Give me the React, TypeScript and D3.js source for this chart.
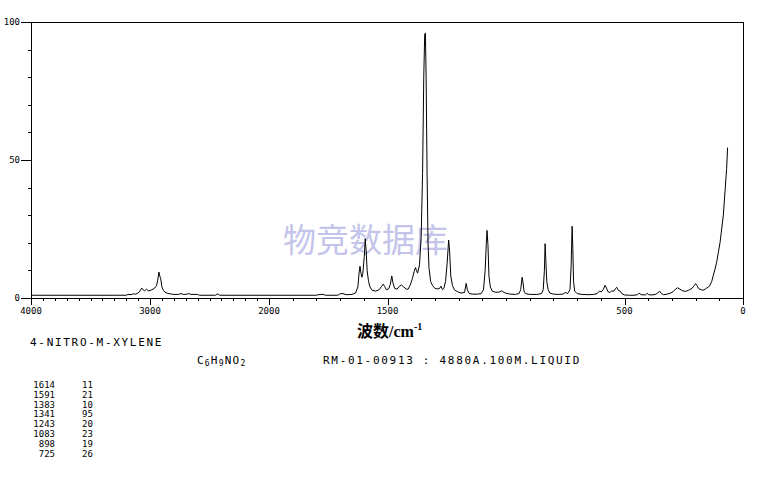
import * as d3 from "d3";

// spectrum: [wavenumber, intensity]
const spectrum: [number, number][] = [
  [4000, 1.0], [3300, 1.0], [3200, 1.0], [3185, 1.3], [3160, 1.2], [3140, 1.5], [3120, 1.4],
  [3100, 1.8], [3085, 2.5], [3070, 3.6], [3058, 3.0], [3045, 2.6], [3030, 3.2], [3015, 2.6],
  [3000, 2.7], [2985, 3.0], [2965, 3.4], [2945, 4.5], [2935, 6.5], [2925, 9.4], [2918, 8.0],
  [2910, 7.0], [2900, 4.0], [2888, 2.8], [2875, 2.1], [2855, 1.7], [2830, 1.5], [2800, 1.3],
  [2760, 1.3], [2740, 1.6], [2720, 1.3], [2700, 1.3], [2675, 1.6], [2655, 1.3], [2600, 1.3],
  [2585, 1.0], [2450, 1.0], [2430, 1.5], [2415, 1.0], [2000, 1.0], [1800, 1.0], [1785, 1.3],
  [1772, 1.3], [1762, 1.0], [1710, 1.0], [1698, 1.6], [1688, 1.6], [1675, 1.2], [1650, 1.3],
  [1635, 1.8], [1625, 4], [1620, 9], [1616, 11.5], [1612, 9], [1608, 7.5], [1604, 9],
  [1598, 15], [1594, 21.5], [1590, 17], [1586, 10], [1580, 6], [1574, 4], [1565, 2.8],
  [1550, 2.5], [1535, 3], [1525, 4.2], [1518, 5], [1512, 4.2], [1505, 3], [1495, 3.3],
  [1488, 5], [1482, 8], [1477, 5.5], [1470, 3.5], [1460, 3.2], [1450, 4.2], [1441, 4.7],
  [1432, 4], [1420, 3.2], [1413, 3.2], [1405, 4.5], [1395, 7], [1388, 9.5], [1382, 11],
  [1378, 10], [1373, 9], [1365, 12], [1358, 22], [1352, 45], [1347, 80], [1343, 95.5],
  [1340, 96], [1337, 80], [1333, 45], [1329, 20], [1325, 11], [1318, 6], [1310, 4.5],
  [1300, 3.5], [1290, 3.3], [1280, 3.5], [1274, 4.3], [1268, 3], [1262, 3.5], [1255, 6],
  [1248, 13], [1242, 21], [1238, 17], [1233, 8], [1226, 4.5], [1218, 3], [1205, 2.3],
  [1190, 1.8], [1175, 2], [1168, 5.3], [1163, 3], [1155, 1.6], [1140, 1.4], [1120, 1.4],
  [1105, 1.6], [1095, 3], [1088, 10], [1083, 20], [1080, 24.5], [1076, 19], [1072, 8],
  [1066, 4], [1058, 2.5], [1045, 2.1], [1030, 2.1], [1018, 2.6], [1008, 2], [995, 1.6],
  [980, 1.4], [960, 1.3], [945, 1.6], [938, 3], [932, 7.5], [928, 5.5], [924, 2.5],
  [918, 1.6], [900, 1.3], [870, 1.3], [850, 1.6], [843, 3], [838, 10], [835, 19.7],
  [832, 14], [828, 6], [822, 3], [815, 1.8], [800, 1.4], [780, 1.3], [760, 1.4], [750, 2],
  [740, 1.6], [730, 3], [725, 12], [721, 26], [718, 18], [715, 6], [710, 2.5], [700, 1.6],
  [680, 1.3], [650, 1.2], [630, 1.3], [615, 1.6], [606, 2.5], [598, 2.2], [590, 3],
  [582, 4.6], [576, 3.6], [570, 2.3], [562, 2], [555, 2.5], [545, 2.5], [538, 3.4],
  [533, 3.9], [526, 2.8], [520, 2.6], [510, 1.5], [500, 1.1], [480, 1.0], [460, 1.0],
  [445, 1.2], [438, 1.8], [430, 1.2], [412, 1.1], [404, 1.7], [398, 1.2], [385, 1.1],
  [370, 1.3], [360, 1.8], [352, 2.5], [344, 1.6], [335, 1.2], [320, 1.4], [305, 1.8],
  [295, 2.3], [285, 3.2], [276, 3.7], [266, 3.2], [255, 2.6], [242, 2.4], [230, 2.8],
  [215, 3.5], [205, 4.6], [200, 5.2], [195, 4.6], [188, 3.5], [175, 2.9], [165, 2.9],
  [155, 3.5], [145, 4], [139, 4.7], [132, 6], [125, 8.3], [118, 10.5], [111, 13],
  [104, 16.5], [97, 20], [90, 25], [83, 30], [76, 38.5], [69, 47], [65, 54.5],
];

const xLabels = [4000, 3000, 2000, 1500, 500, 0];
const yLabels = [0, 50, 100];

const peakPositions = ["1614", "1591", "1383", "1341", "1243", "1083", "898", "725"];
const peakIntensities = ["11", "21", "10", "95", "20", "23", "19", "26"];

const mono = "'DejaVu Sans Mono', monospace";

export default function App() {
  const left = 31;
  const right = 743;
  const top = 22;
  const bottom = 298;

  // the axis is split: 4000-2000 compressed, 2000-0 at double scale
  const x = d3.scaleLinear().domain([4000, 2000, 0]).range([left, 269, right]);
  const y = d3.scaleLinear().domain([0, 100]).range([bottom, top]);

  const line = d3
    .line<[number, number]>()
    .x((d) => x(d[0]))
    .y((d) => y(d[1]));

  const xTicks = d3.range(0, 4001, 100);
  const yTicks = d3.range(0, 101, 10);

  return (
    <svg
      width={761}
      height={477}
      style={{ position: "absolute", left: 0, top: 0, background: "#fff" }}
    >
      <rect width={761} height={477} fill="#fff" />
      <text
        x={283}
        y={252}
        fontFamily="'Noto Sans CJK SC', sans-serif"
        fontSize={33}
        fill="#c4c4ea"
      >
        物竞数据库
      </text>

      <g shapeRendering="crispEdges" stroke="#000" strokeWidth={1}>
        <rect
          x={left + 0.5}
          y={top + 0.5}
          width={right - left}
          height={bottom - top}
          fill="none"
        />
        {xTicks.map((t) => (
          <line
            key={t}
            x1={Math.round(x(t)) + 0.5}
            x2={Math.round(x(t)) + 0.5}
            y1={bottom}
            y2={bottom + (xLabels.includes(t) ? 7 : 3)}
          />
        ))}
        {yTicks.map((t) => (
          <line
            key={t}
            x1={yLabels.includes(t) ? 21 : 28}
            x2={left}
            y1={Math.round(y(t)) + 0.5}
            y2={Math.round(y(t)) + 0.5}
          />
        ))}
      </g>

      <g fontFamily={mono} fontSize={9} fill="#000">
        {xLabels.map((t) => (
          <text key={t} x={x(t)} y={313.5} textAnchor="middle">
            {t}
          </text>
        ))}
        {yLabels.map((t) => (
          <text key={t} x={20} y={y(t) + 3} textAnchor="end">
            {t}
          </text>
        ))}
      </g>

      <path
        d={line(spectrum) ?? ""}
        fill="none"
        stroke="#000"
        strokeWidth={1}
        strokeLinejoin="round"
      />

      <text x={357} y={337} fontSize={16} fontWeight="bold" fill="#000">
        <tspan fontFamily="'Noto Sans CJK SC', sans-serif">波数</tspan>
        <tspan fontFamily="'Liberation Serif', serif">/cm</tspan>
        <tspan fontFamily="'Liberation Serif', serif" fontSize={10} dy={-7}>
          -1
        </tspan>
      </text>

      <g fontFamily={mono} fontSize={11} fill="#000">
        <text x={30} y={346} letterSpacing={1.7}>
          4-NITRO-M-XYLENE
        </text>
        <text x={197} y={364} letterSpacing={1.2}>
          C<tspan fontSize={8} dy={2}>6</tspan>
          <tspan dy={-2}>H</tspan>
          <tspan fontSize={8} dy={2}>9</tspan>
          <tspan dy={-2}>NO</tspan>
          <tspan fontSize={8} dy={2}>2</tspan>
        </text>
        <text x={323} y={364} letterSpacing={1.7}>
          RM-01-00913 : 4880A.100M.LIQUID
        </text>
      </g>

      <g fontFamily={mono} fontSize={9} fill="#000">
        {peakPositions.map((p, i) => (
          <g key={i}>
            <text x={55} y={388 + i * 9.8} textAnchor="end">
              {p}
            </text>
            <text x={82} y={388 + i * 9.8}>
              {peakIntensities[i]}
            </text>
          </g>
        ))}
      </g>
    </svg>
  );
}
